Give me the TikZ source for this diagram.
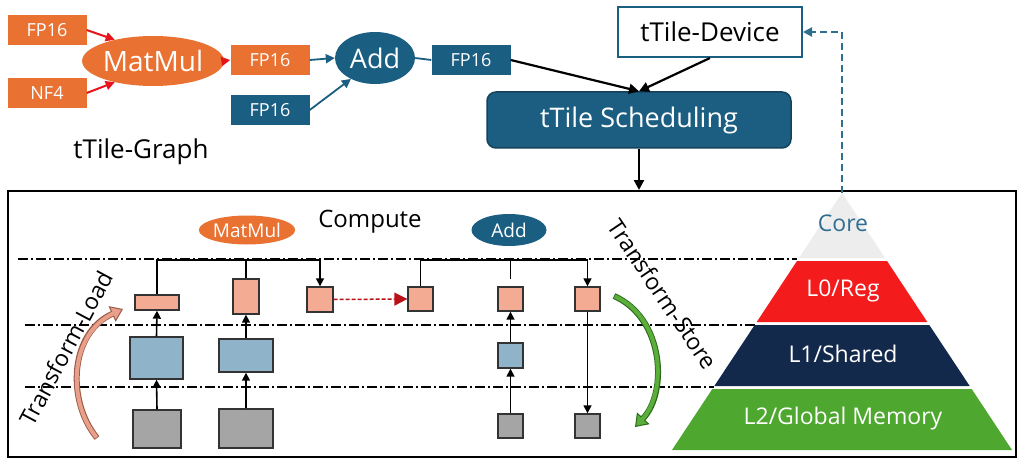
\documentclass[tikz,border=0pt]{standalone}
\usepackage{fontspec}
\setmainfont{Open Sans}
\usetikzlibrary{arrows.meta,shapes.geometric,calc}
\definecolor{orng}{HTML}{E97132}
\definecolor{dblue}{HTML}{1A5E82}
\definecolor{schedb}{HTML}{1B5E82}
\definecolor{arred}{HTML}{E8141C}
\definecolor{dashblue}{HTML}{2E6E8F}
\definecolor{salm}{HTML}{F4AB93}
\definecolor{tblue}{HTML}{8FB3C8}
\definecolor{tgray}{HTML}{A5A5A5}
\definecolor{coreg}{HTML}{EDEDED}
\definecolor{lred}{HTML}{F31B1B}
\definecolor{navy}{HTML}{13294B}
\definecolor{lgreen}{HTML}{4EA72E}
\definecolor{coretxt}{HTML}{2F6E91}
\definecolor{loadc}{HTML}{E9A08A}
\definecolor{loadd}{HTML}{9A5A48}
\definecolor{storec}{HTML}{5BAE3A}
\definecolor{stored}{HTML}{2C6B1C}
\newcommand\setfs[1]{\fontsize{#1}{#1}\selectfont}
\begin{document}
\begin{tikzpicture}[x=1pt,y=-1pt,
  obox/.style={draw=none,fill=orng,text=white,minimum width=79pt,minimum height=30pt,inner sep=0pt,font=\setfs{18pt}},
  bbox/.style={draw=none,fill=dblue,text=white,minimum width=79pt,minimum height=30pt,inner sep=0pt,font=\setfs{18pt}},
  oell/.style={ellipse,fill=orng,text=white,inner sep=0pt},
  bell/.style={ellipse,fill=dblue,text=white,inner sep=0pt},
  redarr/.style={arred,line width=2pt,-{Triangle[length=9pt,width=9pt]}},
  bluearr/.style={dblue,line width=1.8pt,-{Triangle[length=9pt,width=9pt]}},
  blackarr/.style={black,line width=2.2pt,-{Triangle[length=10pt,width=10pt]}},
  conn/.style={black,line width=1.6pt},
  cArr/.style={conn,-{Triangle[length=8pt,width=8pt]}},
  stile/.style={draw=black!80,line width=1.4pt,fill=salm,inner sep=0pt},
  btile/.style={draw=black!80,line width=1.4pt,fill=tblue,inner sep=0pt},
  gtile/.style={draw=black!80,line width=1.4pt,fill=tgray,inner sep=0pt},
  dashdot/.style={black,line width=1.3pt,dash pattern=on 10pt off 3pt on 2pt off 3pt},
  lvl/.style={text=white,font=\setfs{23pt}}
]
\useasboundingbox (0,0) rectangle (1024,465);
\fill[white] (0,0) rectangle (1024,465);

% ---------- top graph ----------
\node[obox] (fpa) at (47,30) {FP16};
\node[obox] (nf4) at (47,93) {NF4};
\node[oell,minimum width=114pt,minimum height=50pt,font=\setfs{28pt}] (mm) at (153,61) {MatMul};
\node[obox] (fpb) at (270,60) {FP16};
\node[bbox] (fpc) at (270,110) {FP16};
\node[bell,minimum width=80pt,minimum height=52pt,font=\setfs{27pt}] (add) at (375,58) {Add};
\node[bbox] (fpd) at (471,60) {FP16};
\node[font=\setfs{26pt}] (graph) at (141,152) {tTile-Graph};

\draw[redarr] (fpa.east) -- (mm.151);
\draw[redarr] (nf4.east) -- (mm.209);
\draw[redarr] (mm.east) -- (fpb.west);
\draw[bluearr] (fpb.east) -- (add.west);
\draw[bluearr] (fpc.east) -- (add.221);
\draw[dblue,line width=1.8pt] (add.east) -- (fpd.west);

\node[draw=schedb!70!black,line width=1.5pt,fill=schedb,rounded corners=9pt,text=white,
      minimum width=304pt,minimum height=56pt,font=\setfs{27pt}] (sched) at (639,120) {tTile Scheduling};
\node[draw=dblue,line width=2pt,fill=white,minimum width=184pt,minimum height=50pt,
      font=\setfs{26pt}] (dev) at (710,32) {tTile-Device};

\draw[blackarr] (fpd.east) -- (sched.north);
\draw[blackarr] (dev.south) -- (sched.north);

% ---------- frame ----------
\node[draw=black,line width=2pt,minimum width=1008pt,minimum height=266pt,inner sep=0pt] (frame) at (512,324) {};
\draw[blackarr] (sched.south) -- (sched.south |- frame.north);

% ---------- level separators ----------
\draw[dashdot] (18,259) -- (797,259);
\draw[dashdot] (25,325) -- (755,325);
\draw[dashdot] (25,387) -- (714,387);

% ---------- pyramid ----------
\coordinate (apex) at (842,193);
\fill[coreg] (apex) -- (885,258) -- (799,258) -- cycle;
\fill[lred] (797,261) -- (887,261) -- (927.3,322) -- (756.7,322) -- cycle;
\fill[navy] (754.7,325) -- (929.3,325) -- (969.7,386) -- (714.3,386) -- cycle;
\fill[lgreen] (712.3,389) -- (971.7,389) -- (1012,450) -- (672,450) -- cycle;
\node[text=coretxt,font=\setfs{23pt}] (core) at (843,223) {Core};
\node[lvl] (l0) at (843,291) {L0/Reg};
\node[lvl] (l1) at (843,354) {L1/Shared};
\node[lvl] (l2) at (843,419) {L2/Global Memory};

\draw[dashblue,line width=2.4pt,dash pattern=on 7pt off 4pt,-{Triangle[length=9pt,width=9pt]}]
  (apex) |- (dev.east);

% ---------- labels ----------
\node[oell,minimum width=87pt,minimum height=29pt,font=\setfs{19pt}] (smm) at (247,230) {MatMul};
\node[font=\setfs{24pt}] (comp) at (370,222) {Compute};
\node[bell,minimum width=75pt,minimum height=32pt,font=\setfs{19pt}] (sadd) at (509,230) {Add};
\node[rotate=62,font=\setfs{23pt}] (tl) at (66,348) {Transform-Load};
\node[rotate=-56,font=\setfs{23pt}] (ts) at (663,294) {Transform-Store};

% ---------- tiles ----------
\node[stile,minimum width=44pt,minimum height=15pt] (s1) at (157,302.5) {};
\node[btile,minimum width=53pt,minimum height=42pt] (b1) at (156.5,358) {};
\node[gtile,minimum width=48pt,minimum height=38pt] (g1) at (157,429) {};
\node[stile,minimum width=26pt,minimum height=35pt] (s2) at (246,296.5) {};
\node[btile,minimum width=54pt,minimum height=33pt] (b2) at (246,355.5) {};
\node[gtile,minimum width=54pt,minimum height=39pt] (g2) at (246,428.5) {};
\node[stile,minimum width=26pt,minimum height=25pt] (s3) at (320,299.5) {};
\node[stile,minimum width=25pt,minimum height=24pt] (s4) at (420.5,299) {};
\node[stile,minimum width=25pt,minimum height=24pt] (s5) at (510.5,299) {};
\node[btile,minimum width=25pt,minimum height=25pt] (b5) at (510.5,355.5) {};
\node[gtile,minimum width=25pt,minimum height=24pt] (g5) at (510.5,426) {};
\node[stile,minimum width=25pt,minimum height=24pt] (s6) at (587.5,299) {};
\node[gtile,minimum width=25pt,minimum height=24pt] (g6) at (587.5,426) {};

% buses
\draw[cArr] (s1.north) |- (s3.north |- 0,260) -- (s3.north);
\draw[conn] (s2.north) -- (s2.north |- 0,260);
\draw[cArr] (s4.north) |- (s6.north |- 0,260) -- (s6.north);
\draw[conn] (s5.north |- 0,260) -- (s5.north |- 0,279);
% vertical transfers
\draw[cArr] (b1.north) -- (s1.south);
\draw[cArr] (g1.north) -- (b1.south);
\draw[cArr] (b2.north) -- (s2.south);
\draw[cArr] (g2.north) -- (b2.south);
\draw[cArr] (b5.north) -- (s5.south);
\draw[cArr] (g5.north) -- (b5.south);
\draw[cArr] (s6.south) -- (g6.north);
\draw[arred!80!black,line width=1.5pt,dash pattern=on 4pt off 2pt,-{Triangle[length=13pt,width=13pt]}] (s3.east) -- (s4.west);

% ---------- curved arrows ----------
\draw[line width=6pt,draw=loadd,-{Triangle[length=12pt,width=17pt,fill=loadc,line width=1pt]}]
  (97,438) .. controls (66,400) and (70,333) .. (123,309);
\draw[line width=4pt,draw=loadc,shorten >=10pt,shorten <=0.8pt]
  (97,438) .. controls (66,400) and (70,333) .. (123,309);
\draw[line width=6pt,draw=stored,-{Triangle[length=12pt,width=17pt,fill=storec,line width=1pt]}]
  (614,296) .. controls (664,318) and (668,392) .. (635,427);
\draw[line width=4pt,draw=storec,shorten >=10pt,shorten <=0.8pt]
  (614,296) .. controls (664,318) and (668,392) .. (635,427);
\end{tikzpicture}
\end{document}
